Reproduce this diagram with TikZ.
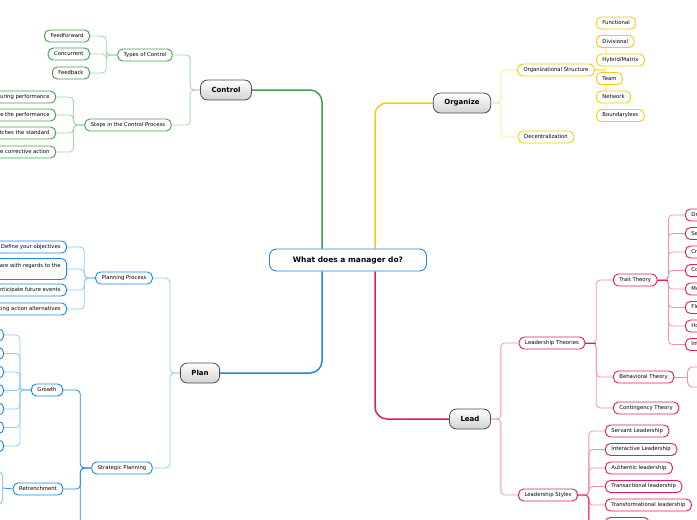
\documentclass[tikz,border=0pt]{standalone}
\usepackage{fontspec}
\setmainfont{DejaVu Sans}
\usetikzlibrary{backgrounds}
\definecolor{ctlgreen}{RGB}{67,160,71}
\definecolor{ctllight}{RGB}{165,214,167}
\definecolor{plnblue}{RGB}{30,136,229}
\definecolor{plnlight}{RGB}{144,202,249}
\definecolor{orgyellow}{RGB}{253,200,20}
\definecolor{orglight}{RGB}{255,228,130}
\definecolor{leadred}{RGB}{226,28,94}
\definecolor{leadlight}{RGB}{244,143,177}
\newcommand\bgdraw[2]{\begin{pgfonlayer}{background}\draw[#1] #2;\end{pgfonlayer}}
\newcommand\leftlink[3]{\bgdraw{link=#1}{(#2.west) -- ++(-11,0) |- (#3.east)}}
\newcommand\rightlink[3]{\bgdraw{link=#1}{(#2.east) -- ++(11,0) |- (#3.west)}}

\begin{document}
\begin{tikzpicture}[x=1pt, y=-1pt,
    topic/.style={draw=gray!60!black, rounded corners=7pt, top color=white, bottom color=gray!35,
        font=\fontsize{7}{8}\selectfont\bfseries, minimum height=20pt, inner xsep=11pt, thick},
    leaf/.style={draw=#1, fill=white, rounded corners=5pt, font=\fontsize{5.3}{6.3}\selectfont,
        minimum height=12pt, inner xsep=6pt, line width=0.9pt},
    link/.style={draw=#1, line width=0.8pt, rounded corners=4pt}]
\useasboundingbox (0,0) rectangle (697,520);
\clip (0,0) rectangle (697,520);

% main topics
\node[draw=plnblue, fill=white, rounded corners=7pt, minimum width=157pt, minimum height=22pt,
    font=\fontsize{7.5}{9}\selectfont\bfseries, line width=0.9pt] (center) at (348,260) {What does a manager do?};
\node[topic] (ctl) at (226,90) {Control};
\node[topic] (org) at (462,103) {Organize};
\node[topic] (pln) at (200,373) {Plan};
\node[topic] (lead) at (470,419) {Lead};

\bgdraw{ctlgreen, line width=1.5pt, rounded corners=12pt}{([xshift=-26pt]center.north) |- (ctl.east)}
\bgdraw{orgyellow, line width=1.5pt, rounded corners=12pt}{([xshift=27pt]center.north) |- (org.west)}
\bgdraw{plnblue, line width=1.5pt, rounded corners=12pt}{([xshift=-26pt]center.south) |- (pln.east)}
\bgdraw{leadred, line width=1.5pt, rounded corners=12pt}{([xshift=27pt]center.south) |- (lead.west)}

% Control
\node[leaf=ctlgreen] (types) at (145,55) {Types of Control};
\node[leaf=ctlgreen] (steps) at (128,125) {Steps in the Control Process};
\node[leaf=ctlgreen, anchor=east] (ff) at (90,36) {Feedforward};
\node[leaf=ctlgreen, anchor=east] (cc) at (90,54) {Concurrent};
\node[leaf=ctlgreen, anchor=east] (fb) at (90,73) {Feedback};
\node[leaf=ctlgreen, anchor=east] (st1) at (56,97) {Measuring performance};
\node[leaf=ctlgreen, anchor=east] (st2) at (56,115) {Compare the performance};
\node[leaf=ctlgreen, anchor=east] (st3) at (56,133) {Check if it matches the standard};
\node[leaf=ctlgreen, anchor=east] (st4) at (56,152) {Take corrective action};
\foreach \c in {types,steps} {\bgdraw{link=ctllight}{(ctl.west) -- ++(-10,0) |- (\c.east)}}
\foreach \c in {ff,cc,fb} {\leftlink{ctllight}{types}{\c}}
\foreach \c in {st1,st2,st3,st4} {\leftlink{ctllight}{steps}{\c}}

% Organize
\node[leaf=orgyellow] (struct) at (556,70) {Organizational Structure};
\node[leaf=orgyellow] (decen) at (546,137) {Decentralization};
\foreach \c in {struct,decen} {\bgdraw{link=orglight}{(org.east) -- ++(10,0) |- (\c.west)}}
\foreach \t [count=\i] in {Functional,Divisional,Hybrid/Matrix,Team,Network,Boundaryless} {
  \node[leaf=orgyellow, anchor=west] (os\i) at (596,{4.5+18.5*\i}) {\t};
  \rightlink{orglight}{struct}{os\i}
}

% Plan
\node[leaf=plnblue] (pproc) at (124,278) {Planning Process};
\node[leaf=plnblue] (strat) at (122,468) {Strategic Planning};
\foreach \c in {pproc,strat} {\bgdraw{link=plnlight}{(pln.west) -- ++(-10,0) |- (\c.east)}}
\node[leaf=plnblue, anchor=east] (pp1) at (67,247) {Define your objectives};
\node[leaf=plnblue, anchor=east, align=left, minimum height=21pt] (pp2) at (67,269)
  {Determine where you are with regards to the\\objectives};
\node[leaf=plnblue, anchor=east] (pp3) at (67,290) {Anticipate future events};
\node[leaf=plnblue, anchor=east] (pp4) at (67,309) {Evaluating action alternatives};
\foreach \c in {pp1,pp2,pp3,pp4} {\leftlink{plnlight}{pproc}{\c}}
\node[leaf=plnblue] (growth) at (47,390) {Growth};
\node[leaf=plnblue] (retr) at (38,489) {Retrenchment};
\bgdraw{link=plnblue}{(strat.west) -- ++(-11,0) |- (growth.east)}
\bgdraw{link=plnblue}{(strat.west) -- ++(-11,0) |- (retr.east)}
\bgdraw{link=plnblue}{(strat.west) -- ++(-11,0) -- ++(0,60)}
\foreach \i in {1,...,7} {
  \node[leaf=plnblue, anchor=east, minimum width=40pt] (gr\i) at (4,{316.5+18.5*\i}) {};
  \bgdraw{link=plnlight}{(growth.west) -- ++(-11,0) |- (gr\i.east)}
}
\node[leaf=plnlight, anchor=east, minimum width=40pt, minimum height=34pt] (rt1) at (3,488) {};
\bgdraw{link=plnblue}{(retr.west) -- (rt1.east)}

% Lead
\node[leaf=leadred] (ltheo) at (552,343) {Leadership Theories};
\node[leaf=leadred] (lsty) at (548,495) {Leadership Styles};
\foreach \c in {ltheo,lsty} {\bgdraw{link=leadlight}{(lead.east) -- ++(10,0) |- (\c.west)}}
\node[leaf=leadred, anchor=west] (trait) at (613,280) {Trait Theory};
\node[leaf=leadred, anchor=west] (behav) at (613,377) {Behavioral Theory};
\node[leaf=leadred, anchor=west] (conti) at (613,408) {Contingency Theory};
\foreach \c in {trait,behav,conti} {\rightlink{leadlight}{ltheo}{\c}}
\bgdraw{link=leadred}{(ltheo.east) -- ++(11,0)}
\foreach \t [count=\i] in {Drive,Self-confidence,Creativity,Cognitive ability,Motivation,Flexibility,Honesty,Intelligence} {
  \node[leaf=leadred, anchor=west] (tr\i) at (685,{196.5+18.5*\i}) {\t};
  \rightlink{leadlight}{trait}{tr\i}
}
\bgdraw{link=leadred}{(trait.east) -- ++(11,0)}
\node[leaf=leadlight, anchor=west, minimum width=40pt, minimum height=20pt] (bh1) at (687,377) {};
\bgdraw{link=leadlight}{(behav.east) -- (bh1.west)}
\foreach \t [count=\i] in {Servant Leadership,Interactive Leadership,Authentic leadership,
    Transactional leadership,Transformational leadership,Charismatic} {
  \node[leaf=leadred, anchor=west] (ls\i) at (605,{412.5+18.5*\i}) {\t};
  \bgdraw{link=leadlight}{(lsty.east) -- ++(11,0) |- (ls\i.west)}
}
\bgdraw{link=leadred}{(lsty.east) -- ++(11,0) -- ++(0,30)}
\end{tikzpicture}
\end{document}
